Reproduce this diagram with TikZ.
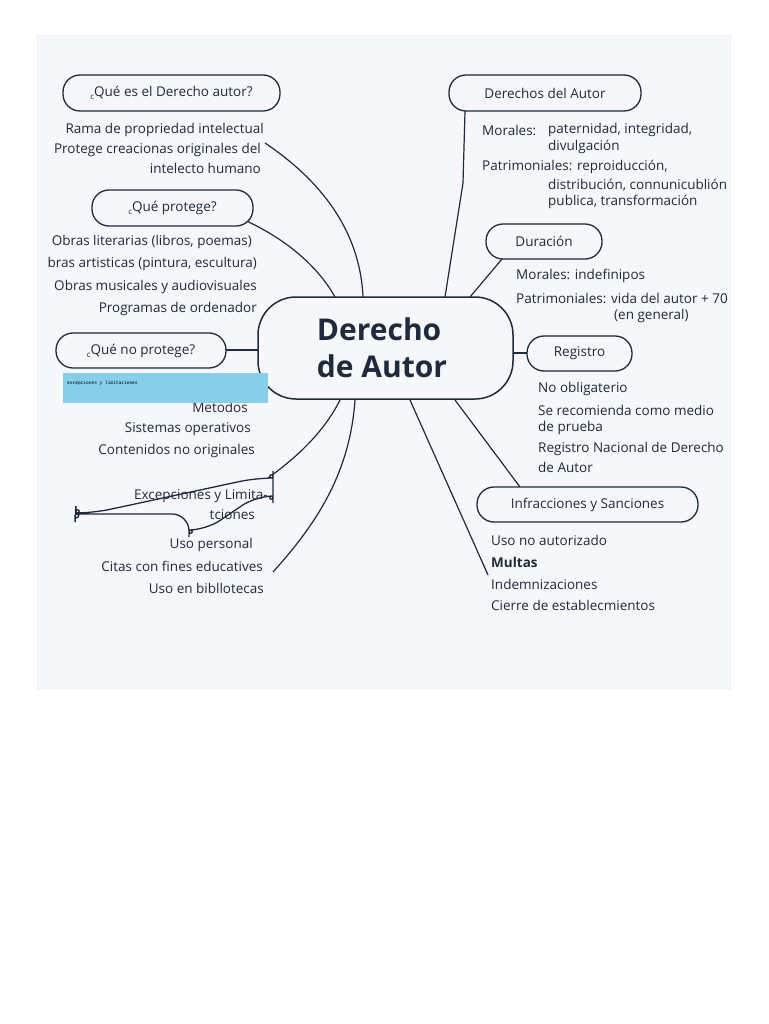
\documentclass[tikz,border=0pt]{standalone}
\usepackage{fontspec}
\setmainfont{Open Sans}
\newfontfamily\monof{DejaVu Sans Mono}
\definecolor{ink}{HTML}{1F2A3C}
\definecolor{panel}{HTML}{F5F7FA}
\definecolor{skyb}{HTML}{87CEEB}
\begin{document}
\begin{tikzpicture}[x=1pt,y=-1pt,
  every node/.style={text=ink,font=\fontsize{13.5}{16}\selectfont,inner sep=0pt},
  pill/.style={draw=ink,line width=1.3pt,rounded corners=17pt,fill=panel},
  conn/.style={draw=ink,line width=1.2pt},
  rt/.style={anchor=east},
  lt/.style={anchor=west}]
\useasboundingbox (0,0) rectangle (768,1024);
\fill[white] (0,0) rectangle (768,1024);
\fill[panel] (36,34) rectangle (732,690);
\begin{scope}
\clip (36,34) rectangle (732,690);
% connectors
\draw[conn] (265,143) .. controls (320,180) and (360,230) .. (363,297);
\draw[conn] (240,218) .. controls (290,240) and (320,270) .. (335,297);
\draw[conn] (465,111) -- (463,183) -- (445,297);
\draw[conn] (502,259) -- (470,297);
\draw[conn] (226,350) -- (258,350);
\draw[conn] (513,353) -- (527,353);
\draw[conn] (340,400) .. controls (325,430) and (300,455) .. (268,478);
\draw[conn] (355,400) .. controls (350,470) and (320,520) .. (273,572);
\draw[conn] (410,400) -- (488,575);
\draw[conn] (455,400) -- (520,487);
% centre
\node[draw=ink,line width=1.5pt,rounded corners=38pt,fill=panel,minimum width=255pt,minimum height=102pt] (c) at (385.5,348) {};
\node[font=\fontsize{30}{37}\selectfont\bfseries,align=left] (ct) at (382,348) {Derecho\\de Autor};
% boxes
\newcommand{\invq}{\raisebox{-3pt}{\fontsize{8}{8}\selectfont c}}
\node[pill,minimum width=217pt,minimum height=36pt] (q1) at (171.5,93) {};
\node (q1t) at (171.5,93) {\invq Qué es el Derecho autor?};
\node[pill,minimum width=161pt,minimum height=36pt] (q2) at (172.5,208) {};
\node (q2t) at (172.5,208) {\invq Qué protege?};
\node[pill,minimum width=170pt,minimum height=35pt] (q3) at (141,350.5) {};
\node (q3t) at (141,350.5) {\invq Qué no protege?};
\draw[pill] (76,496) arc (180:90:17) -- (256,478) arc (90:0:17) -- (273,513) arc (0:-90:17) -- (206,530) arc (-90:-180:17) -- (189,514) -- (93,514) arc (-90:-180:18) -- cycle;
\node[anchor=east] (ex1) at (268,496) {Excepciones y Limita-};
\node[anchor=east] (ex2) at (255,515) {tciones};
\node[pill,minimum width=192pt,minimum height=36pt] (r1) at (545,93) {};
\node (r1t) at (545,93) {Derechos del Autor};
\node[pill,minimum width=116pt,minimum height=35pt] (r2) at (544,241.5) {};
\node (r2t) at (544,241.5) {Duración};
\node[pill,minimum width=105pt,minimum height=35pt] (r3) at (579.5,353.5) {};
\node (r3t) at (579.5,353.5) {Registro};
\node[pill,minimum width=221pt,minimum height=35pt] (r4) at (587.5,504.5) {};
\node (r4t) at (587.5,504.5) {Infracciones y Sanciones};
% left texts
\node[rt] (a1) at (264,130) {Rama de propriedad intelectual};
\node[rt] (a2) at (261,150) {Protege creacionas originales del};
\node[rt] (a3) at (261,168) {intelecto humano};
\node[rt] (b1) at (252,242) {Obras literarias (libros, poemas)};
\node[rt] (b2) at (257,264) {bras artisticas (pintura, escultura)};
\node[rt] (b3) at (257,287) {Obras musicales y audiovisuales};
\node[rt] (b4) at (257,309) {Programas de ordenador};
\node[rt] (n1) at (248,407) {Metodos};
\fill[skyb] (63,373) rectangle (268,403);
\node[lt,font=\monof\fontsize{4.5}{5}\selectfont,text=black] (bl) at (67,383) {excepciones y limitaciones};
\node[rt] (n2) at (251,429) {Sistemas operativos};
\node[rt] (n3) at (255,451) {Contenidos no originales};
\node[rt] (e1) at (253,545) {Uso personal};
\node[rt] (e2) at (263,566) {Citas con fines educatives};
\node[rt] (e3) at (264,588) {Uso en bibllotecas};
% right texts
\node[lt] (m1) at (482,130) {Morales:};
\node[lt] (m2) at (548,130) {paternidad, integridad,};
\node[lt] (m3) at (548,147) {divulgación};
\node[lt] (m4) at (482,167) {Patrimoniales: reproiducción,};
\node[lt] (m5) at (548,185) {distribución, connunicublión};
\node[lt] (m6) at (548,202) {publica, transformación};
\node[lt] (d1) at (516,276) {Morales: indefinipos};
\node[lt] (d2) at (516,298) {Patrimoniales: vida del autor + 70};
\node[lt] (d3) at (614,316) {(en general)};
\node[lt] (g1) at (538,389) {No obligaterio};
\node[lt] (g2) at (538,410) {Se recomienda como medio};
\node[lt] (g3) at (538,428) {de prueba};
\node[lt] (g4) at (538,449) {Registro Nacional de Derecho};
\node[lt] (g5) at (538,467) {de Autor};
\node[lt] (i1) at (491,540) {Uso no autorizado};
\node[lt,font=\fontsize{13.5}{16}\selectfont\bfseries] (i2) at (491,562) {Multas};
\node[lt] (i3) at (491,584) {Indemnizaciones};
\node[lt] (i4) at (491,605) {Cierre de establecmientos};
\end{scope}
\end{tikzpicture}
\end{document}
